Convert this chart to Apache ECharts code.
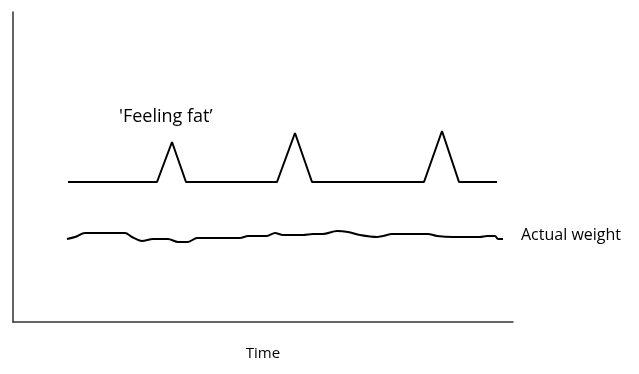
<!DOCTYPE html>
<html>
<head>
<meta charset="utf-8">
<script src="https://cdn.jsdelivr.net/npm/echarts@6/dist/echarts.min.js"></script>
<style>html,body{margin:0;padding:0;background:#fff;}#c{width:639px;height:374px;}</style>
</head>
<body>
<div id="c"></div>
<script>
const xAxisName = 'Time';
const feelingFatLabel = "'Feeling fat\u2019";
const actualWeightLabel = 'Actual weight';
const feelingFat = [[55,140],[144,140],[159,180],[173,140],[264,140],[282,189],[299,140],[411,140],[429,191],[446,140],[484,140]];
const actualWeight = [[54,83],[62,85],[72,89],[80,89],[112,89],[119,85],[129,81],[140,83],[155,83],[165,80],[175,80],[184,84],[227,84],[235,86],[254,86],[262,89],[270,87],[280,87],[290,87],[300,88],[310,88],[324,91],[335,90],[347,87],[364,85],[370,86],[379,88],[415,88],[424,86],[440,85],[467,85],[474,86],[482,86],[485,83],[490,83]];

const chart = echarts.init(document.getElementById('c'));
chart.setOption({
  animation: false,
  grid: {left: 13, top: 12, width: 500, height: 310},
  xAxis: {
    type: 'value', min: 0, max: 500,
    name: xAxisName, nameLocation: 'middle', nameGap: 24,
    nameTextStyle: {fontFamily: 'Open Sans', fontSize: 15, color: '#000', verticalAlign: 'top'},
    axisLine: {lineStyle: {color: '#333', width: 1.5}},
    axisTick: {show: false}, axisLabel: {show: false}, splitLine: {show: false}
  },
  yAxis: {
    type: 'value', min: 0, max: 310,
    axisLine: {show: true, lineStyle: {color: '#333', width: 1.5}},
    axisTick: {show: false}, axisLabel: {show: false}, splitLine: {show: false}
  },
  graphic: [{
    type: 'text', left: 119, top: 108,
    style: {text: feelingFatLabel, font: '18px "Open Sans"', fill: '#000'}
  }],
  series: [{
    type: 'line', data: feelingFat, symbol: 'none',
    lineStyle: {color: '#000', width: 2}
  }, {
    type: 'line', data: actualWeight, symbol: 'none', smooth: 0.3,
    lineStyle: {color: '#000', width: 2},
    endLabel: {show: true, formatter: actualWeightLabel, distance: 18, offset: [0, -4],
      fontFamily: 'Open Sans', fontSize: 16, color: '#000'}
  }]
});
</script>
</body>
</html>
